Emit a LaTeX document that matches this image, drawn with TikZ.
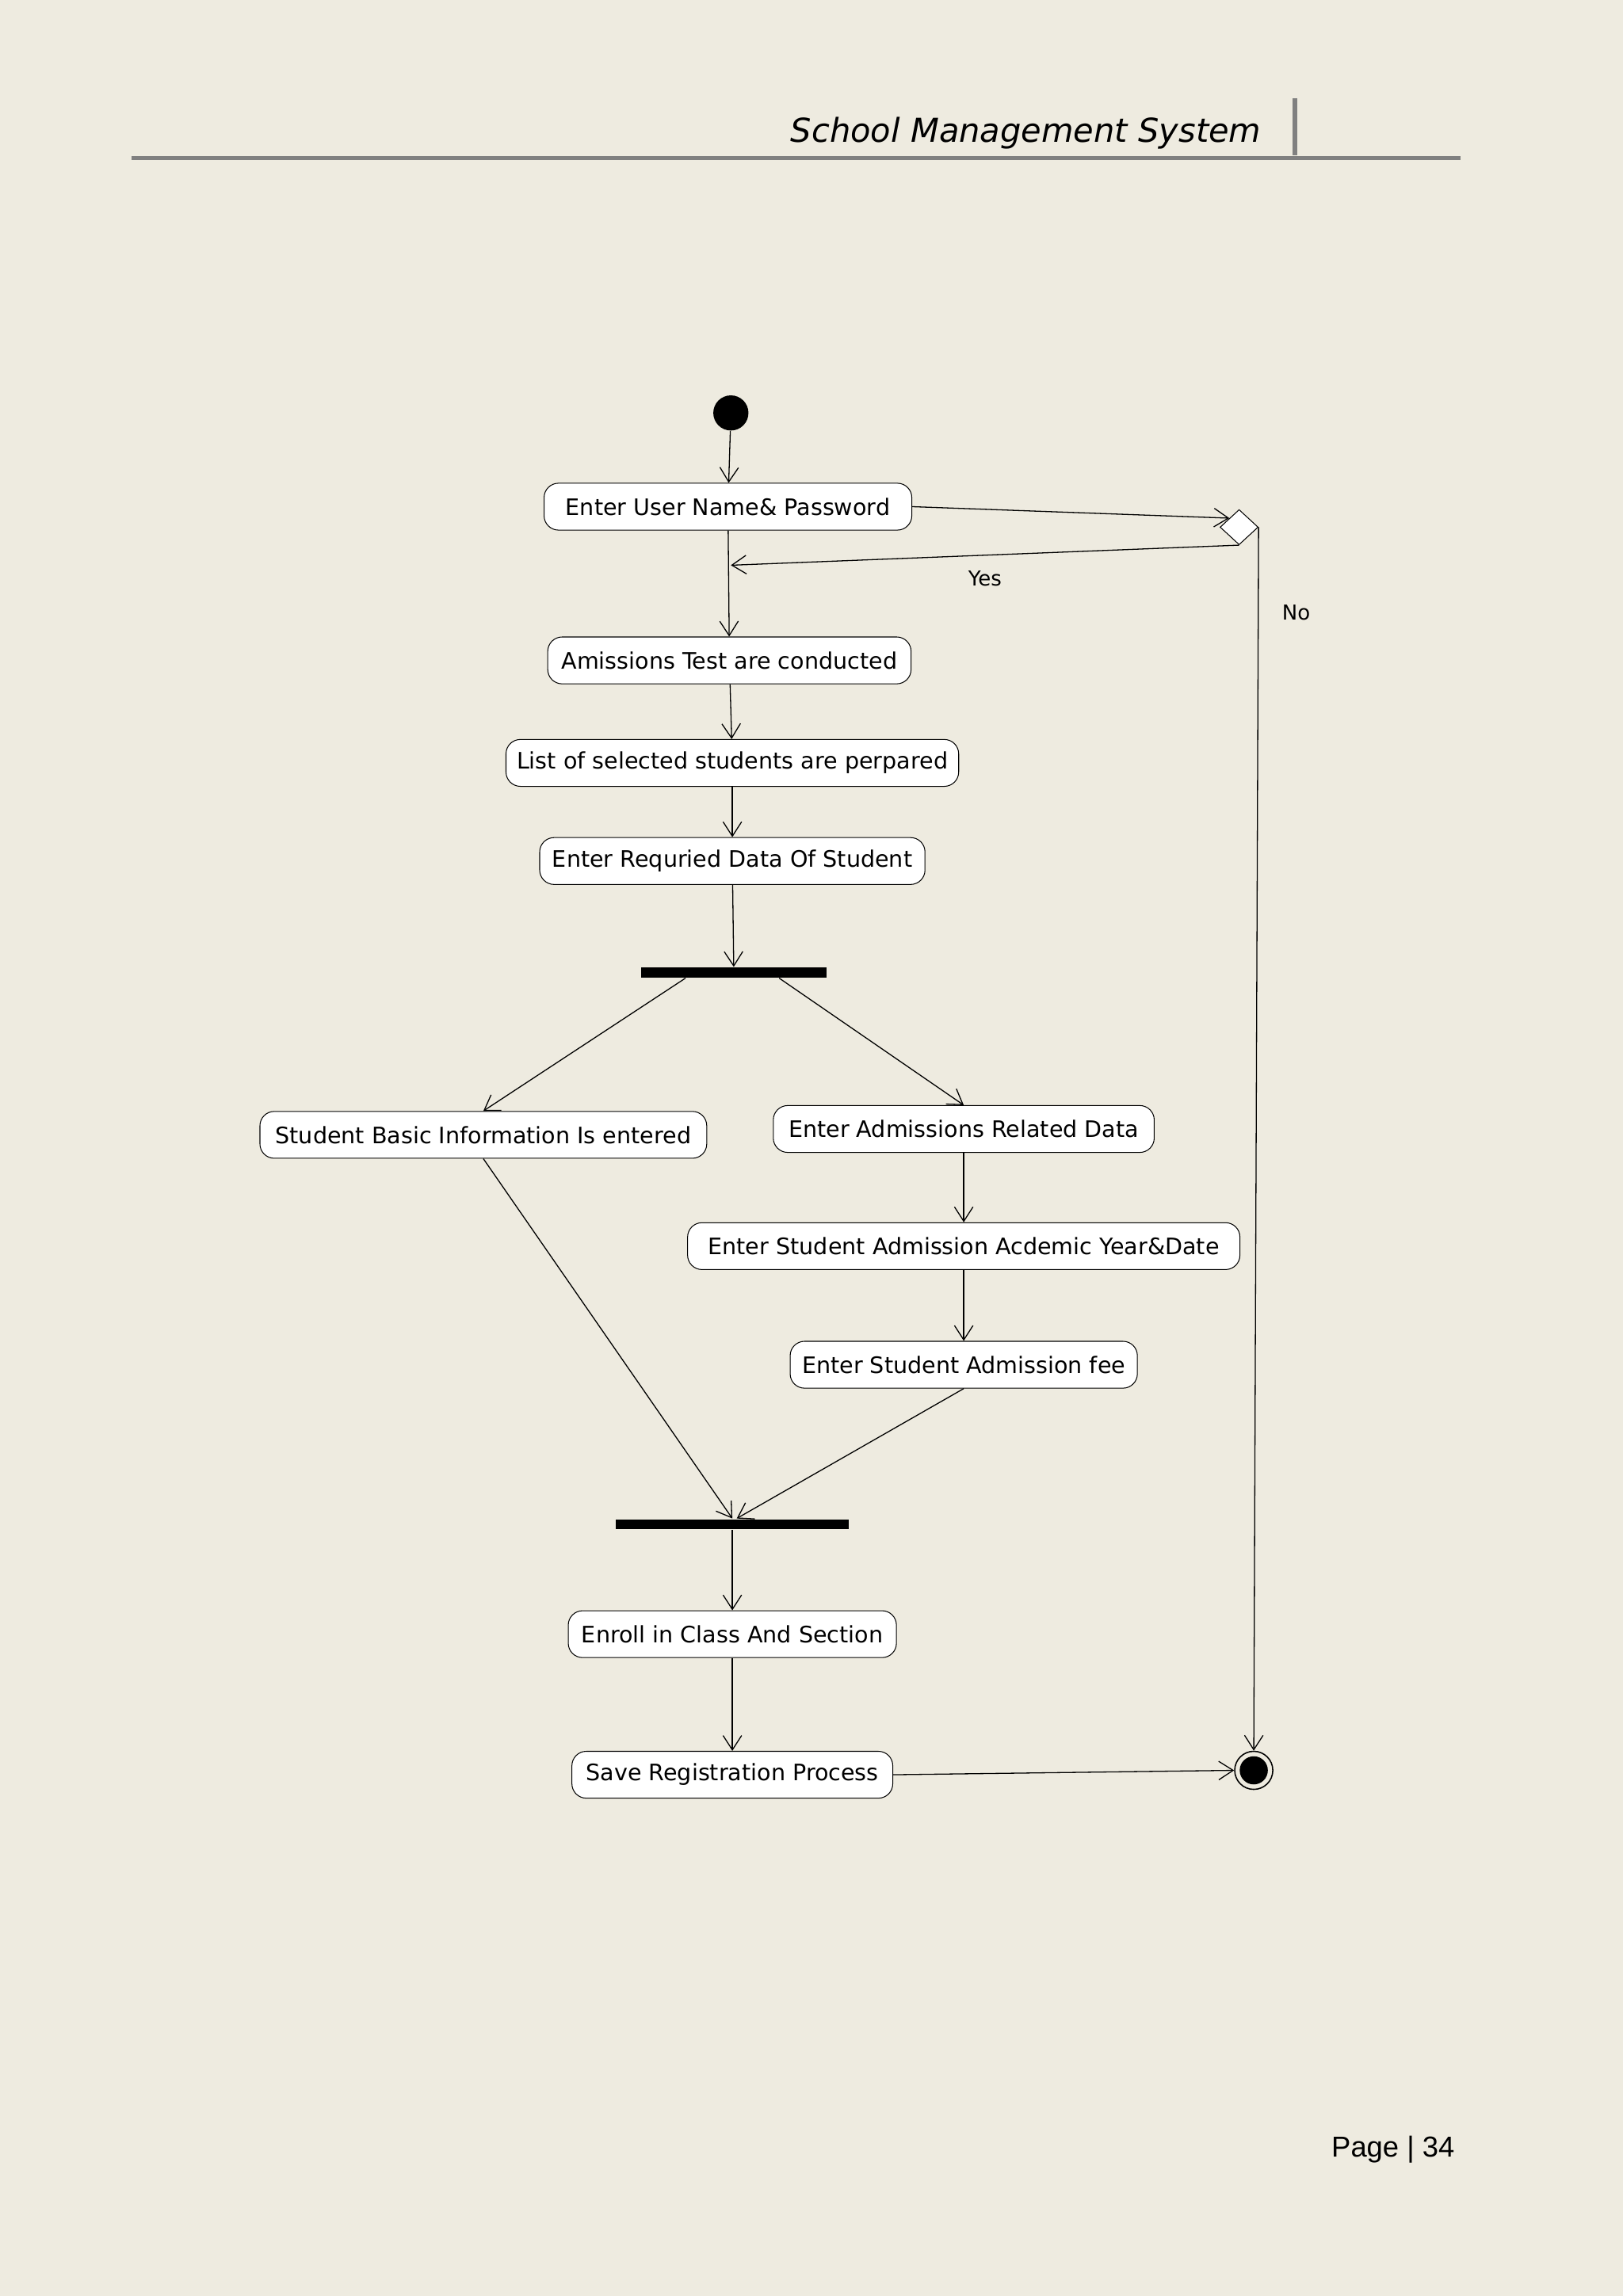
\documentclass[tikz,border=0pt]{standalone}
\usepackage{fontspec}
\setmainfont{DejaVu Sans}
\newfontfamily\pagefont{Liberation Sans}
\usetikzlibrary{arrows.meta,shapes.geometric}
\definecolor{bg}{HTML}{EEEBE0}
\definecolor{hdr}{HTML}{808080}
\begin{document}
\begin{tikzpicture}[x=0.025cm,y=-0.025cm,
  act/.style={draw,rounded corners=7pt,fill=white,minimum height=0.8cm,inner sep=2pt,font=\fontsize{11}{13}\selectfont},
  arr/.style={-{Straight Barb[length=7pt,width=9pt]},line width=0.5pt},
  bar/.style={fill=black,inner sep=0pt,minimum height=0.17cm}]
\fill[bg] (0,0) rectangle (1108,1568);
\useasboundingbox (0,0) rectangle (1108,1568);
% header
\draw[hdr,line width=2.2pt] (90,108) -- (997,108);
\draw[hdr,line width=2.2pt] (884,67) -- (884,106);
\node[anchor=base east,font=\fontsize{16}{19}\selectfont\itshape] (title) at (866,97) {School Management System};
\node[anchor=base east,font=\pagefont\fontsize{14}{16}\selectfont] (page) at (998,1473) {Page | 34};
% nodes
\node[circle,fill=black,minimum size=0.6cm,inner sep=0pt] (start) at (499,282) {};
\node[act,minimum width=6.275cm] (n1) at (497,346) {Enter User Name\& Password};
\node[draw,fill=white,diamond,minimum width=0.65cm,minimum height=0.6cm,inner sep=0pt] (dec) at (846,360) {};
\node[act,minimum width=6.2cm] (n2) at (498,451) {Amissions Test are conducted};
\node[act,minimum width=7.725cm] (n3) at (500,521) {List of selected students are perpared};
\node[act,minimum width=6.575cm] (n4) at (500,588) {Enter Requried Data Of Student};
\node[bar,minimum width=3.175cm] (fork) at (501,664) {};
\node[act,minimum width=7.625cm] (n5) at (330,775) {Student Basic Information Is entered};
\node[act,minimum width=6.5cm] (n6) at (658,771) {Enter Admissions Related Data};
\node[act,minimum width=9.425cm] (n7) at (658,851) {Enter Student Admission Acdemic Year\&Date};
\node[act,minimum width=5.925cm] (n8) at (658,932) {Enter Student Admission fee};
\node[bar,minimum width=3.975cm] (join) at (500,1041) {};
\node[act,minimum width=5.6cm] (n9) at (500,1116) {Enroll in Class And Section};
\node[act,minimum width=5.475cm] (n10) at (500,1212) {Save Registration Process};
\node[circle,draw,line width=0.6pt,minimum size=0.65cm,inner sep=0pt] (end) at (856,1209) {};
\node[circle,fill=black,minimum size=0.48cm,inner sep=0pt] (endin) at (856,1209) {};
% edges
\draw[arr] (start) -- (n1);
\draw[arr] (n1.east) -- (dec.north west);
\draw[arr] (dec.south) -- node[below,pos=0.5,yshift=-4pt,font=\fontsize{10}{12}\selectfont] (yes) {Yes} (499,386);
\draw[arr] (dec.east) -- node[right,pos=0.07,xshift=8pt,font=\fontsize{10}{12}\selectfont] (no) {No} (end.north);
\draw[arr] (n1) -- (n2);
\draw[arr] (n2) -- (n3);
\draw[arr] (n3) -- (n4);
\draw[arr] (n4) -- (fork);
\draw[arr] (468,668) -- (n5.north);
\draw[arr] (532,668) -- (n6.north);
\draw[arr] (n6) -- (n7);
\draw[arr] (n7) -- (n8);
\draw[arr] (n5.south) -- (500,1037);
\draw[arr] (n8.south) -- (503,1037);
\draw[arr] (join) -- (n9);
\draw[arr] (n9) -- (n10);
\draw[arr] (n10.east) -- (end.west);
\end{tikzpicture}
\end{document}
